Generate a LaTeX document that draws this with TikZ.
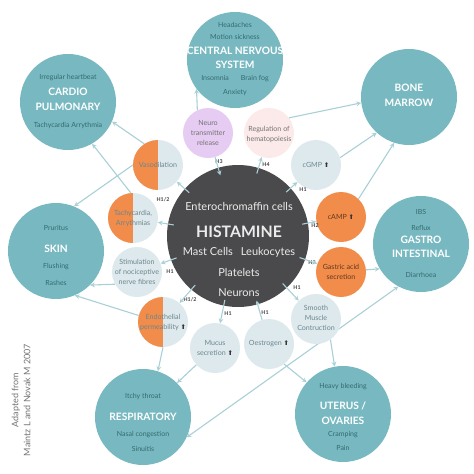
\documentclass[tikz,border=0pt]{standalone}
\usepackage{fontspec}
\setmainfont{Lato}
\newfontfamily\symfont{DejaVu Sans}
\usetikzlibrary{arrows, backgrounds, positioning}

\definecolor{tealC}{HTML}{78B9C1}
\definecolor{darkC}{HTML}{4A4A4C}
\definecolor{orangeC}{HTML}{F28C4B}
\definecolor{lblueC}{HTML}{DDE9ED}
\definecolor{lavC}{HTML}{E6CCF2}
\definecolor{pinkC}{HTML}{FCEAEA}
\definecolor{arrC}{HTML}{A9CFD7}
\definecolor{subC}{HTML}{336A70}
\definecolor{smallC}{HTML}{6C868C}

\newcommand{\ttl}[1]{{\fontsize{10.2}{12}\selectfont\bfseries\color{white}#1}}
\newcommand{\upar}{{\symfont\fontsize{6.5}{6}\selectfont\color{black!80}⬆}}

\begin{document}
\begin{tikzpicture}[x=1pt, y=-1pt]
    \tikzstyle{big} = [circle, minimum size=96pt, inner sep=0pt, fill=tealC]
    \tikzstyle{small} = [circle, minimum size=50pt, inner sep=0pt]
    \tikzstyle{half} = [small, fill=lblueC, path picture={\fill[orangeC] (path picture bounding box.south west) rectangle (path picture bounding box.north);}]
    \tikzstyle{btxt} = [align=center, text=subC, font=\fontsize{7}{12}\selectfont]
    \tikzstyle{stxt} = [align=center, text=smallC, font=\fontsize{7.1}{10}\selectfont]
    \tikzstyle{hlab} = [font=\fontsize{5.3}{5}\selectfont\bfseries, text=black!75]
    \tikzstyle{arrow} = [draw=arrC, line width=1.1pt, ->, >=stealth]

    \useasboundingbox (0,0) rectangle (474,474);

    % centre
    \node (hist) [circle, minimum size=142pt, inner sep=0pt, fill=darkC] at (238,236) {};
    \node (histtxt) [align=center, text=black!8, font=\fontsize{11}{20}\selectfont] at (239,249.5)
        {Enterochromaffin cells\\[7pt]
         {\fontsize{15.8}{20}\selectfont\bfseries HISTAMINE}\\[-2pt]
         Mast Cells\hspace{8pt}Leukocytes\\[1pt]
         Platelets\\[0.5pt]
         Neurons};

    % organs
    \node (cns) [big] at (235,60) {};
    \node (cnstxt) [btxt] at (235,59)
        {Headaches\\
         Motion sickness\\[3pt]
         \ttl{CENTRAL NERVOUS}\\[2pt]
         \ttl{SYSTEM}\\
         Insomnia\hspace{12pt}Brain fog\\[2pt]
         Anxiety};
    \node (cardio) [big] at (68,102) {};
    \node (cardiotxt) [btxt] at (68,102)
        {Irregular heartbeat\\[4pt]
         \ttl{CARDIO}\\[3pt]
         \ttl{PULMONARY}\\[5pt]
         Tachycardia Arrythmia};
    \node (bone) [big] at (409,97) {};
    \node (bonetxt) [btxt] at (409,95)
        {\ttl{BONE}\\[3pt]
         \ttl{MARROW}};
    \node (gastro) [big] at (421,244) {};
    \node (gastrotxt) [btxt] at (421,243.5)
        {IBS\\[4pt]
         Reflux\\[1pt]
         \ttl{GASTRO}\\[2pt]
         \ttl{INTESTINAL}\\[8pt]
         Diarrhoea};
    \node (skin) [big] at (56,251) {};
    \node (skintxt) [btxt] at (56,255.5)
        {Pruritus\\[10pt]
         \ttl{SKIN}\\[4pt]
         Flushing\\[5pt]
         Rashes};
    \node (resp) [big] at (143,417) {};
    \node (resptxt) [btxt] at (143,422.5)
        {Itchy throat\\[10pt]
         \ttl{RESPIRATORY}\\[4pt]
         Nasal congestion\\[3pt]
         Sinuitis};
    \node (uterus) [big] at (343,414) {};
    \node (uterustxt) [btxt] at (343,417)
        {Heavy bleeding\\[9pt]
         \ttl{UTERUS /}\\[3pt]
         \ttl{OVARIES}\\
         Cramping\\[2pt]
         Pain};

    % effects
    \node (neuro) [small, fill=lavC] at (208,133) {};
    \node (neurotxt) [stxt, text=black!55] at (208,133) {Neuro\\transmitter\\release};
    \node (reg) [small, fill=pinkC] at (269,133) {};
    \node (regtxt) [stxt, text=black!55] at (269,134) {Regulation of\\hematopoiesis};
    \node (cgmp) [small, fill=lblueC] at (316,165) {};
    \node (cgmptxt) [stxt] at (316,165) {cGMP \upar};
    \node (camp) [small, fill=orangeC] at (341,217) {};
    \node (camptxt) [stxt, text=black!60!orangeC] at (341,217) {cAMP \upar};
    \node (gastric) [small, fill=orangeC] at (341,272) {};
    \node (gastrictxt) [stxt, text=black!60!orangeC] at (341,272) {Gastric acid\\secretion};
    \node (smooth) [small, fill=lblueC] at (316,319) {};
    \node (smoothtxt) [stxt] at (316,318) {Smooth\\Muscle\\Contruction};
    \node (oest) [small, fill=lblueC] at (269,344) {};
    \node (oesttxt) [stxt] at (269,344) {Oestrogen \upar};
    \node (mucus) [small, fill=lblueC] at (215,348) {};
    \node (mucustxt) [stxt] at (215,348) {Mucus\\secretion \upar};
    \node (endo) [half] at (163,322) {};
    \node (endotxt) [stxt] at (163,322) {Endothelial\\permeability \upar};
    \node (stim) [small, fill=lblueC] at (137,272) {};
    \node (stimtxt) [stxt] at (137,272) {Stimulation\\of nociceptive\\nerve fibres};
    \node (tachy) [half] at (133,218) {};
    \node (tachytxt) [stxt] at (133,218) {Tachycardia,\\Arrythmias};
    \node (vaso) [half] at (158,165) {};
    \node (vasotxt) [stxt] at (158,165) {Vasodilation};

    % receptor labels
    \node (h3) [hlab] at (219,162) {H3};
    \node (h4) [hlab] at (266,165) {H4};
    \node (h1a) [hlab] at (303,190) {H1};
    \node (h2a) [hlab] at (315,226) {H2};
    \node (h2b) [hlab] at (312,263) {H2};
    \node (h1b) [hlab] at (297,288) {H1};
    \node (h1c) [hlab] at (265,313) {H1};
    \node (h1d) [hlab] at (228,314) {H1};
    \node (h12a) [hlab] at (190,300) {H1/2};
    \node (h1e) [hlab] at (170,272) {H1};
    \node (h12b) [hlab] at (163,200) {H1/2};

    \node (credit) [rotate=90, align=center, text=black!55, font=\fontsize{9}{12}\selectfont] at (21,400)
        {Adapted from\\Maintz L and Novak M 2007};

    % connectors
    \begin{scope}[on background layer]
        \draw [arrow, <->] (resp.-25) -- (gastro.242);
    \end{scope}
    \draw [arrow, shorten <=-6pt] (hist) -- (vaso);
    \draw [arrow, shorten <=-6pt] (hist) -- (tachy);
    \draw [arrow, shorten >=-8pt] (neuro) -- (hist);
    \draw [arrow, shorten <=-6pt] (hist) -- (reg);
    \draw [arrow, shorten <=-6pt] (hist) -- (cgmp);
    \draw [arrow, shorten <=-6pt] (hist) -- (camp);
    \draw [arrow, shorten <=-6pt] (hist) -- (gastric);
    \draw [arrow, shorten <=-6pt] (hist) -- (smooth);
    \draw [arrow, shorten >=-4pt] (oest) -- (hist);
    \draw [arrow, shorten <=-6pt] (hist) -- (mucus);
    \draw [arrow, shorten <=-6pt] (hist) -- (endo);
    \draw [arrow, shorten <=-6pt] (hist) -- (stim);

    \draw [arrow] (vaso.123) -- (cardio.-24);
    \draw [arrow] (vaso.180) -- (skin.68);
    \draw [arrow] (tachy.95) -- (cardio.-60);
    \draw [arrow] (neuro.115) -- (cns.217);
    \draw [arrow] (reg.37) -- (bone.187);
    \draw [arrow] (cgmp.17) -- (bone.228);
    \draw [arrow] (camp.46) -- (bone.252);
    \draw [arrow] (gastric.5) -- (gastro.211);
    \draw [arrow] (smooth.-55) -- (uterus.100);
    \draw [arrow] (oest.-53) -- (uterus.139);
    \draw [arrow] (mucus.222) -- (resp.45);
    \draw [arrow] (endo.-90) -- (resp.72);
    \draw [arrow] (endo.165) -- (skin.-67);
    \draw [arrow] (stim.209) -- (skin.-45);
\end{tikzpicture}
\end{document}
